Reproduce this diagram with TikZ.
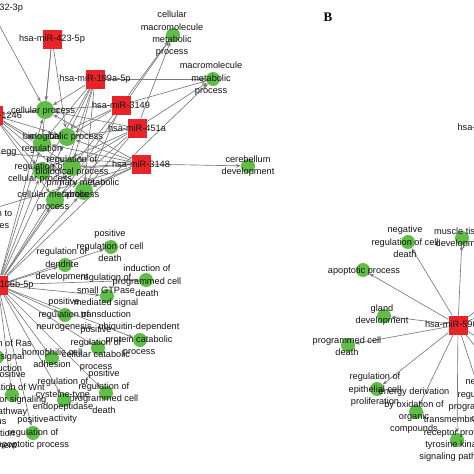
\documentclass[tikz,border=0pt]{standalone}
\usepackage{fontspec}
\newfontfamily\termfont{Liberation Sans}
\newfontfamily\panelfont{Liberation Serif}
\usetikzlibrary{arrows.meta,backgrounds}
\definecolor{mirred}{RGB}{232,36,40}
\definecolor{gogreen}{RGB}{96,190,72}
\tikzset{
  mir/.style={rectangle, fill=mirred, minimum size=19pt, inner sep=0pt},
  term/.style={circle, fill=gogreen, inner sep=0pt},
  hub/.style={term, minimum size=18pt},
  leaf/.style={term, minimum size=14pt},
  lab/.style={align=center, inner sep=0pt, text=black!92, font=\termfont\fontsize{9.2}{12.4}\selectfont},
  hit/.style={draw=black!52, line width=0.65pt, -{Stealth[length=5pt,width=3.6pt]}}
}
\def\mirna(#1)#2#3{\node[mir] (#2) at (#1) {}; \node[lab] (#2-t) at (#1) {#3};}
\def\goterm[#1](#2)(#3)#4#5{\node[#1] (#4) at (#2) {}; \node[lab] (#4-t) at (#3) {#5};}

\begin{document}
\begin{tikzpicture}[x=1pt, y=-1pt]
	%%%%% START %%%%%
	\useasboundingbox (0,0) rectangle (474,474);
	
	% panel A, left network
	\goterm[leaf](173,35)(172,34){cmmp}{cellular\\macromolecule\\metabolic\\process}
	\goterm[leaf](213,79)(211,79){mmp}{macromolecule\\metabolic\\process}
	\goterm[hub](45,110)(43,111){cp}{cellular process}
	\goterm[hub](67,137)(66,137){mp}{metabolic process}
	\goterm[hub](42,143)(42,143){br}{biological\\regulation}
	\goterm[hub](42,171)(40,173){rcp}{regulation of\\cellular process}
	\goterm[hub](72,167)(72,166){rbp}{regulation of\\biological process}
	\goterm[hub](84,191)(83,189){pmp}{primary metabolic\\process}
	\goterm[hub](55,200)(53,201){cmp}{cellular metabolic\\process}
	\goterm[leaf](-40,150)(-17,152){egg}{activation of egg}
	\goterm[leaf](-45,220)(-31,219){nto}{protein localization to\\cellular membranes}
	\goterm[leaf](248,166)(248,166){cbd}{cerebellum\\development}
	
	\goterm[leaf](111,247)(110,246){prcd}{positive\\regulation of cell\\death}
	\goterm[leaf](65,265)(62,265){rdd}{regulation of\\dendrite\\development}
	\goterm[leaf](146,280)(147,281){ipcd}{induction of\\programmed cell\\death}
	\goterm[leaf](107,296)(106,296){rsg}{regulation of\\small GTPase\\mediated signal\\transduction}
	\goterm[leaf](65,315)(64,315){prn}{positive\\regulation of\\neurogenesis}
	\goterm[leaf](140,340)(139,340){ubq}{ubiquitin-dependent\\protein catabolic\\process}
	\goterm[leaf](98,348)(96,349){prcc}{positive\\regulation of\\cellular catabolic\\process}
	\goterm[leaf](52,358)(52,358){hca}{homophilic cell\\adhesion}
	\goterm[leaf](-3,357)(-3,356){ras}{regulation of Ras\\protein signal\\transduction}
	\goterm[leaf](12,395)(10,394){wnt}{positive\\regulation of Wnt\\receptor signaling\\pathway}
	\goterm[leaf](-20,435)(-10,435){nsd}{nervous\\organization\\development}
	\goterm[leaf](106,393)(104,392){prpcd}{positive\\regulation of\\programmed cell\\death}
	\goterm[leaf](64,400)(63,401){rcte}{regulation of\\cysteine-type\\endopeptidase\\activity}
	\goterm[leaf](33,433)(33,433){prap}{positive\\regulation of\\apoptotic process}
	
	\mirna(-10,8){m532}{hsa-miR-532-3p}
	\mirna(52,39){m423}{hsa-miR-423-5p}
	\mirna(95,79){m199}{hsa-miR-199a-5p}
	\mirna(121,105){m3149}{hsa-miR-3149}
	\mirna(137,128){m451}{hsa-miR-451a}
	\mirna(141,164){m3148}{hsa-miR-3148}
	\mirna(-7,115){m1246}{hsa-miR-1246}
	\mirna(-2,285){m106}{hsa-miR-106b-5p}
	
	% panel B, right network
	\node[font=\panelfont\bfseries\fontsize{13}{13}\selectfont] (panelB) at (328,17) {B};
	\goterm[leaf](408,242)(405,242){nrcd}{negative\\regulation of cell\\death}
	\goterm[leaf](462,238)(462,238){mtd}{muscle tissue\\development}
	\goterm[leaf](363,270)(364,271){ap}{apoptotic process}
	\goterm[leaf](384,316)(382,315){gd}{gland\\development}
	\goterm[leaf](348,345)(347,346){pcd}{programmed cell\\death}
	\goterm[leaf](377,389)(375,390){repc}{regulation of\\epithelial cell\\proliferation}
	\goterm[leaf](416,412)(414,411){edo}{energy derivation\\by oxidation of\\organic\\compounds}
	\goterm[leaf](484,405)(483,400){nrpcd}{negative\\regulation of\\programmed cell\\death}
	\goterm[leaf](457,440)(456,439){rtk}{transmembrane\\receptor protein\\tyrosine kinase\\signaling pathway}
	\mirna(488,128){mtop}{hsa-miR-21-5p}
	\mirna(458,325){m590}{hsa-miR-590-3p}
	\coordinate (o1) at (500,292);
	\coordinate (o2) at (500,308);
	\coordinate (o3) at (500,352);
	\coordinate (o4) at (496,372);
	
	\begin{pgfonlayer}{background}
	\fill[white] (0,0) rectangle (474,474);
	% edges
	\draw[hit] (m532) -- (cp);
	\foreach \t in {cp,mp,br} \draw[hit] (m423) -- (\t);
	\foreach \t in {cp,mp,br,rbp,pmp,cmp,rcp,mmp} \draw[hit] (m199) -- (\t);
	\foreach \t in {cmmp,mmp,cp,mp,rbp,br,pmp} \draw[hit] (m3149) -- (\t);
	\foreach \t in {cmmp,mmp,cp,mp,rbp,pmp,cmp,rcp} \draw[hit] (m451) -- (\t);
	\foreach \t in {cbd,rbp,pmp,cmp,mp,br,cp,rcp,egg,nto} \draw[hit] (m3148) -- (\t);
	\foreach \t in {cp,mp,br,rbp,pmp,cmp,rcp,egg,nto} \draw[hit] (m1246) -- (\t);
	\foreach \t in {cp,mp,br,rbp,rcp,pmp,cmp,cmmp,mmp,egg,nto,prcd,rdd,ipcd,rsg,prn,ubq,prcc,hca,ras,wnt,nsd,prap,rcte,prpcd} \draw[hit] (m106) -- (\t);
	\foreach \t in {nrcd,mtd,ap,gd,pcd,repc,edo,nrpcd,rtk} \draw[hit] (m590) -- (\t);
	\foreach \t in {o1,o2,o3,o4} \draw[hit] (m590) -- (\t);
	\end{pgfonlayer}
	%%%%% END %%%%%
\end{tikzpicture}
\end{document}
